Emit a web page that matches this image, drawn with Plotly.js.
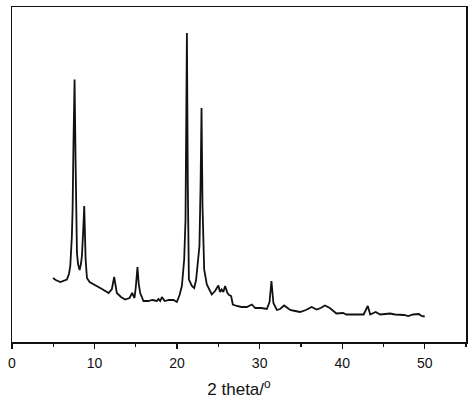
<!DOCTYPE html>
<html>
<head>
<meta charset="utf-8">
<script src="https://cdn.plot.ly/plotly-3.0.1.min.js"></script>
<style>
  html, body { margin: 0; padding: 0; background: #ffffff; }
  #graph { width: 474px; height: 402px; }
</style>
</head>
<body>
<div id="graph"></div>
<script>
// --- Data ---
const theta = [
  4.96, 5.3, 5.85, 6.3, 6.65, 6.9, 7.06, 7.25, 7.34, 7.45, 7.58, 7.7, 7.87, 8.0, 8.19,
  8.35, 8.47, 8.62, 8.75, 8.92, 9.08, 9.4, 9.88, 10.4, 10.9, 11.3, 11.7, 12.1, 12.38, 12.7,
  13.2, 13.7, 14.0, 14.24, 14.56, 14.84, 15.0, 15.2, 15.35, 15.53, 15.93, 16.5, 17.0, 17.55, 17.75,
  17.95, 18.16, 18.5, 19.0, 19.57, 19.97, 20.3, 20.58, 20.86, 21.02, 21.19, 21.3, 21.43, 21.79, 22.07,
  22.3, 22.47, 22.71, 22.85, 22.96, 23.08, 23.28, 23.6, 24.2, 24.6, 25.0, 25.2, 25.4, 25.6, 25.82,
  26.1, 26.3, 26.55, 26.75, 27.24, 27.8, 28.45, 29.06, 29.46, 30.2, 30.87, 31.2, 31.43, 31.67, 32.08,
  32.48, 32.97, 33.5, 33.7, 34.3, 34.9, 35.6, 36.3, 36.9, 37.4, 37.9, 38.5, 39.3, 40.1, 40.5,
  41.35, 42.0, 42.6, 43.1, 43.4, 44.06, 44.6, 45.2, 45.8, 46.4, 47.0, 47.5, 48.0, 48.6, 49.3,
  49.6, 50.0
];
const intensity = [
  64, 62, 60, 61, 62.5, 68, 76, 105, 132, 200, 262.5, 182, 89, 78, 72,
  78, 86, 110, 136, 82.5, 64, 60, 57.5, 55, 53, 51, 49, 53, 65, 49,
  45, 42.5, 43, 44, 49, 44, 55, 75, 58, 49, 41, 41, 42, 41, 43,
  41, 45, 41, 42, 42, 40, 47, 56, 82.5, 122, 309, 156, 62.5, 56, 54,
  62, 74, 96, 160, 234, 136, 72.5, 57.5, 47.5, 51, 56.5, 50, 52.5, 50, 56,
  49, 47, 46, 37.5, 36, 35, 35, 37.5, 34, 34, 33, 40, 61, 39, 32,
  33, 36.5, 33, 32, 31, 30, 32, 35, 32.5, 34, 36.5, 34, 28.5, 29, 27.5,
  27.5, 27, 27.5, 36, 27.5, 30, 27.5, 28, 28.5, 27.5, 27.5, 27, 26, 27.5, 28,
  26, 25.5
];
const xTickVals = [0, 10, 20, 30, 40, 50];
const xLabel = '2 theta/<sup>o</sup>';

const FONT = 'Liberation Sans, Arial, sans-serif';

const trace = {
  x: theta,
  y: intensity,
  mode: 'lines',
  type: 'scatter',
  line: { color: '#111111', width: 1.8 },
  hoverinfo: 'skip'
};

const layout = {
  width: 474,
  height: 402,
  margin: { l: 12, r: 8, t: 7, b: 60 },
  paper_bgcolor: '#ffffff',
  plot_bgcolor: '#ffffff',
  showlegend: false,
  font: { family: FONT, color: '#111111', size: 14 },
  xaxis: {
    range: [0, 55],
    tickvals: xTickVals,
    ticks: 'outside',
    ticklen: 5,
    tickwidth: 1.2,
    tickcolor: '#111111',
    ticklabelstandoff: 3,
    minor: { dtick: 5, tick0: 0, ticks: 'outside', ticklen: 3, tickcolor: '#111111' },
    showline: true,
    linecolor: '#111111',
    linewidth: 1.5,
    mirror: true,
    showgrid: false,
    zeroline: false,
    tickfont: { family: FONT, size: 14, color: '#111111' },
    title: { text: xLabel, font: { family: FONT, size: 17, color: '#111111' }, standoff: 13 }
  },
  yaxis: {
    range: [0, 335],
    showticklabels: false,
    ticks: '',
    showline: true,
    linecolor: '#111111',
    linewidth: 1.5,
    mirror: true,
    showgrid: false,
    zeroline: false
  }
};

Plotly.newPlot('graph', [trace], layout, { displayModeBar: false, staticPlot: true });
</script>
</body>
</html>
